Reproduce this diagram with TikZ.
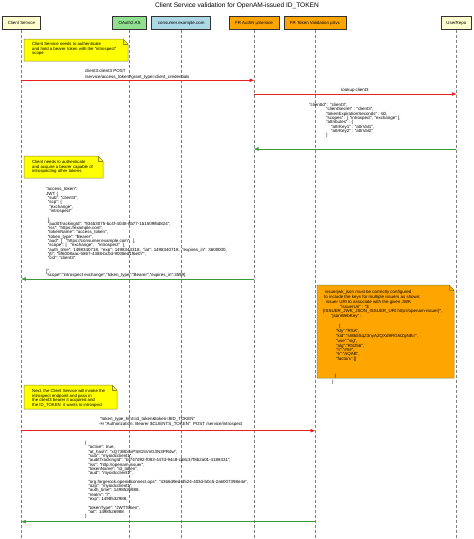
\documentclass[tikz,border=0pt]{standalone}
\usepackage{fontspec}
\setmainfont{Liberation Sans}
\usetikzlibrary{arrows.meta}
\definecolor{cream}{HTML}{FEFECE}
\definecolor{lightgreen}{HTML}{90E090}
\definecolor{lightblue}{HTML}{ADD8E6}
\definecolor{frorange}{HTML}{FFA500}
\definecolor{noteyellow}{HTML}{FFFF00}
\definecolor{noteline}{HTML}{8A8A3A}
\definecolor{reqred}{HTML}{E82020}
\definecolor{respgreen}{HTML}{3A9A3A}
\tikzstyle{actor} = [draw=black!80, line width=0.6pt, rectangle, inner sep=0pt,
    minimum height=12.6pt, font=\fontsize{4.4}{5}\selectfont]
\tikzstyle{lifeline} = [draw=gray, line width=0.6pt, dash pattern=on 3pt off 2pt]
\tikzstyle{req} = [draw=reqred, line width=0.5pt, -{Triangle[length=4.5pt,width=3.4pt]}]
\tikzstyle{resp} = [draw=respgreen, line width=0.5pt, -{Triangle[length=4.5pt,width=3.4pt]}]
\tikzstyle{msgtext} = [inner sep=0pt, anchor=north west, align=left,
    font=\fontsize{4.45}{4.3}\selectfont]
\tikzstyle{notetext} = [msgtext, font=\fontsize{4.3}{4.8}\selectfont]
\tikzstyle{jwktext} = [msgtext, font=\fontsize{4.45}{4}\selectfont]
\newcommand{\dognote}[5]{%
    \draw[fill=#5, draw=noteline, line width=0.5pt] (#1,#2) -- ({#3-5},#2) -- (#3,{#2+5})
        -- (#3,#4) -- (#1,#4) -- cycle;
    \draw[draw=noteline, line width=0.5pt] ({#3-5},#2) -- ({#3-5},{#2+5}) -- (#3,{#2+5});
}

\begin{document}
\begin{tikzpicture}[x=1pt, y=-1pt]
    \fill[white] (0,0) rectangle (474,539);
    \useasboundingbox (0,0) rectangle (474,539);

    \node[font=\fontsize{6.6}{7}\selectfont] (title) at (237,5.5)
        {Client Service validation for OpenAM-issued ID\_TOKEN};

    % participants
    \node[actor, fill=cream, minimum width=37.3pt] (client) at (21.4,23) {Client Service};
    \node[actor, fill=lightgreen, minimum width=33.7pt] (oauth) at (129.6,23) {OAuth2 AS};
    \node[actor, fill=lightblue, minimum width=59pt] (consumer) at (181.2,23) {consumer.example.com};
    \node[actor, fill=frorange, minimum width=50pt] (authn) at (254,23) {FR AuthN µService};
    \node[actor, fill=frorange, minimum width=61.7pt] (tokval) at (315,23) {FR Token Validation µSvc};
    \node[actor, fill=cream, minimum width=30pt] (userrepo) at (456.3,23) {UserRepo};

    \coordinate (bottom) at (0,539);
    \foreach \n in {client,oauth,consumer,authn,tokval,userrepo}
        \draw[lifeline] (\n.south) -- (\n.south |- bottom);

    % acquire a bearer
    \dognote{24}{39}{128}{61}{noteyellow}
    \node[notetext] (note1) at (32,41.9) {Client Service needs to authenticate\\
        and hold a bearer token with the "introspect"\\scope};

    \coordinate (m1) at (0,80.3);
    \node[msgtext] (m1text) at (85,68.9) {client3:client3 POST\\[1.8pt]
        /service/access\_token?grant\_type=client\_credentials};
    \draw[req] (client |- m1) -- (authn |- m1);

    \coordinate (m2) at (0,94);
    \node[font=\fontsize{4.45}{4.3}\selectfont, inner sep=0pt] (m2text) at (355,90.8) {lookup client3};
    \draw[req] (authn |- m2) -- (userrepo |- m2);

    \node[msgtext] (m3text) at (309,103.2) {"clientId" : "client3",\\
        \hspace*{17pt}"clientSecret" : "client3",\\
        \hspace*{17pt}"tokenExpirationSeconds" : 60,\\
        \hspace*{17pt}"scopes" : [ "introspect", "exchange" ],\\
        \hspace*{17pt}"attributes" : \{\\
        \hspace*{22pt}"attrKey1" : "attrVal1",\\
        \hspace*{22pt}"attrKey2" : "attrVal2"\\
        \hspace*{17pt}\}};
    \coordinate (m3) at (0,149);
    \draw[resp] (userrepo |- m3) -- (authn |- m3);

    \dognote{24}{156}{103}{178}{noteyellow}
    \node[notetext] (note2) at (32,159.9) {Client needs to authenticate\\
        and acquire a bearer capable of\\introspecting other tokens};

    \node[msgtext] (m4text) at (46,187.5) {"access\_token":\\
        JWT \{\\
        \hspace*{1.7pt}"sub": "client3",\\
        \hspace*{1.7pt}"scp": [\\
        \hspace*{3.3pt}"exchange",\\
        \hspace*{3.3pt}"introspect"\\[4.3pt]
        \hspace*{1.7pt}],\\
        \hspace*{1.7pt}"auditTrackingId": "934b3075-bc4f-4048-8b77-1b1509f6d824",\\
        \hspace*{1.7pt}"iss": "https://example.com",\\
        \hspace*{1.7pt}"tokenName": "access\_token",\\
        \hspace*{1.7pt}"token\_type": "Bearer",\\
        \hspace*{1.7pt}"aud": [~~~"https://consumer.example.com",~~],\\
        \hspace*{1.7pt}"scope": [~~~"exchange",~~~"introspect"~~],\\
        \hspace*{1.7pt}"auth\_time": 1498340718,~~"exp": 1498344318,~~"iat": 1498340718,~~"expires\_in": 3600000,\\
        \hspace*{1.7pt}"jti": "5f6008aac-5867-4388-bc0d-9008ed1f6e07",\\
        \hspace*{1.7pt}"cid": "client3"\\[8.6pt]
        \}",\\
        "scope":"introspect exchange","token\_type":"Bearer","expires\_in":3599\}};
    \coordinate (m4) at (0,279);
    \draw[resp] (authn |- m4) -- (client |- m4);

    % issuer keys
    \dognote{317}{285}{454}{378}{frorange}
    \node[jwktext] (jwknote) at (322.7,289.9) {\hspace*{2.3pt}issuerjwk\_json must be correctly configured\\
        \hspace*{1.3pt}to include the keys for multiple issuers as shown:\\
        \hspace*{3.3pt}issuer URI to associate with the given JWK\\
        \hspace*{17.3pt}"issuerUri" : "\$\\
        \{ISSUER\_JWK\_JSON\_ISSUER\_URI:http://openam-issuer\}",\\
        \hspace*{8.3pt}"jsonWebKey" :\\[4pt]
        \hspace*{16.3pt}\{\\
        \hspace*{13.3pt}"kty":"RSA",\\
        \hspace*{13.3pt}"kid":"shBdiSqZ3nyAZQXd9RGhtZgNB=",\\
        \hspace*{13.3pt}"use":"sig",\\
        \hspace*{13.3pt}"alg":"RS256",\\
        \hspace*{13.3pt}"n":"\#\#\#",\\
        \hspace*{13.3pt}"e":"AQAB",\\
        \hspace*{13.3pt}"factors":[]\\[12pt]
        \hspace*{11.6pt}\}\\
        \hspace*{9.3pt}\}};

    % introspect the ID_TOKEN
    \dognote{24}{385}{117}{409}{noteyellow}
    \node[notetext] (note3) at (32,388.9) {Next, the Client Service will invoke the\\
        introspect endpoint and pass in\\
        the client3 bearer it acquired and\\
        the ID\_TOKEN~ it wants to introspect};

    \node[msgtext] (m5text) at (99,417.2) {\hspace*{1pt}"token\_type\_hint=id\_token\&token=\$ID\_TOKEN"\\
        -H "Authorization: Bearer \$CLIENTS\_TOKEN"~ POST /service/introspect};
    \coordinate (m5) at (0,430.7);
    \draw[req] (client |- m5) -- (tokval |- m5);

    \node[msgtext] (m6text) at (85,441.2) {\{\\
        \hspace*{3.3pt}"active": true,\\
        \hspace*{3.3pt}"at\_hash": "xQ73Bb7xPS815VnG3N3PRdw",\\
        \hspace*{3.3pt}"sub": "myoidcclient1",\\
        \hspace*{3.3pt}"auditTrackingId": "bf747d92-f083-447d-94c8-c68c37f8b2a01-4188431",\\
        \hspace*{3.3pt}"iss": "http://openam-issuer",\\
        \hspace*{3.3pt}"tokenName": "id\_token",\\
        \hspace*{3.3pt}"aud": "myoidcclient1",\\[4.3pt]
        \hspace*{3.3pt}"org.forgerock.openidconnect.ops": "4366d9ed-d524-403d-b0c5-2a6007398e4e",\\
        \hspace*{3.3pt}"azp": "myoidcclient1",\\
        \hspace*{3.3pt}"auth\_time": 1498526988,\\
        \hspace*{3.3pt}"realm": "/",\\
        \hspace*{3.3pt}"exp": 1498532988,\\[4.3pt]
        \hspace*{3.3pt}"tokenType": "JWTToken",\\
        \hspace*{3.3pt}"iat": 1498526988\\
        \}};
    \coordinate (m6) at (0,521.7);
    \draw[resp] (tokval |- m6) -- (client |- m6);
\end{tikzpicture}
\end{document}
